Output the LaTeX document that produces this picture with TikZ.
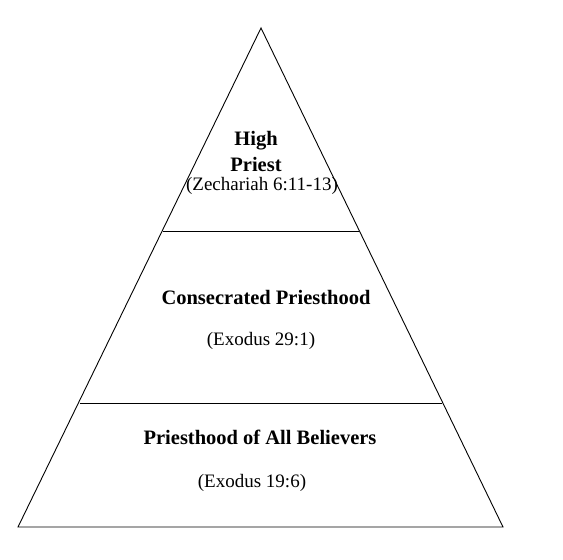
\documentclass[tikz,border=0pt]{standalone}
\usepackage{fontspec}
\setmainfont{Liberation Serif}
\begin{document}
\begin{tikzpicture}[x=1pt,y=-1pt,
  edge/.style={line width=0.9pt,black},
  title/.style={font=\fontsize{20.5}{22}\selectfont\bfseries,inner sep=0pt},
  ref/.style={font=\fontsize{19}{21}\selectfont,inner sep=0pt}]
\useasboundingbox (0,0) rectangle (563,560);
\coordinate (apex) at (261,28);
\coordinate (bl) at (18,527);
\coordinate (br) at (503,527);
\coordinate (l1) at (163,231);
\coordinate (r1) at (359,231);
\coordinate (l2) at (80,403);
\coordinate (r2) at (442,403);
\draw[edge] (bl) -- (apex) -- (br) -- cycle;
\draw[edge] (l1) -- (r1);
\draw[edge] (l2) -- (r2);
\node[title] (high) at (256,141) {High};
\node[title] (priest) at (256,164) {Priest};
\node[ref] (zech) at (262,186) {(Zechariah 6:11-13)};
\node[title] (cons) at (266,297) {Consecrated Priesthood};
\node[ref] (ex29) at (261,341) {(Exodus 29:1)};
\node[title] (all) at (260,437) {Priesthood of All Believers};
\node[ref] (ex19) at (252,483) {(Exodus 19:6)};
\end{tikzpicture}
\end{document}
